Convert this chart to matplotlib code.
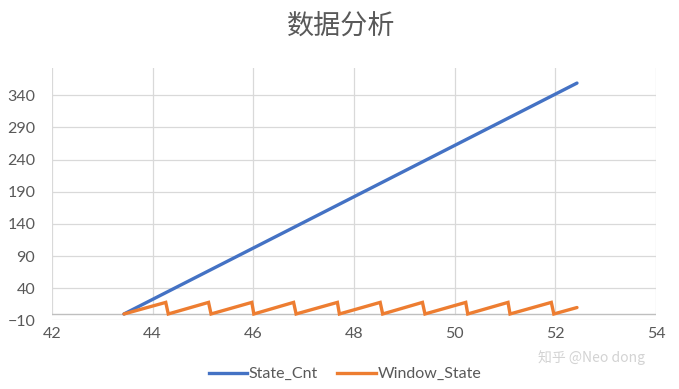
import numpy as np
import matplotlib.pyplot as plt
from matplotlib.lines import Line2D

plt.rcParams['font.family'] = ['Lato', 'Noto Sans CJK SC', 'DejaVu Sans']

# State_Cnt: straight count line
cnt_x = [43.43, 52.43]
cnt_y = [0, 359]

# Window_State: sawtooth
win_x = [43.43, 44.26, 44.31, 45.11, 45.16, 45.97, 46.01, 46.80, 46.85,
         47.67, 47.71, 48.52, 48.57, 49.36, 49.41, 50.22, 50.26, 51.06,
         51.10, 51.92, 51.97, 52.43]
win_y = [0, 18, 0, 18, 0, 18, 0, 18, 0,
         18, 0, 18, 0, 18, 0, 18, 0, 18,
         0, 18, 0, 10]

xticks = [42, 44, 46, 48, 50, 52, 54]
yticks = [-10, 40, 90, 140, 190, 240, 290, 340]

BLUE = '#4472C4'
ORANGE = '#ED7D31'
TXT = '#595959'

fig = plt.figure(figsize=(6.79, 3.89), dpi=100)
ax = fig.add_axes([52/679, 1-320.4/389, (656-52)/679, (320.4-68.3)/389])

ymin, ymax = -10, 382
ax.set_xlim(42, 54)
ax.set_ylim(ymin, ymax)

# gridlines like excel
for yt in yticks:
    ax.axhline(yt, color='#D9D9D9', lw=0.9, zorder=0)
for xt in xticks:
    ax.axvline(xt, ymin=(0-ymin)/(ymax-ymin), ymax=1, color='#D9D9D9', lw=0.9, zorder=0)
ax.axhline(0, color='#BFBFBF', lw=1.0, zorder=1)

ax.plot(cnt_x, cnt_y, color=BLUE, lw=2.4, solid_capstyle='round', zorder=3)
ax.plot(win_x, win_y, color=ORANGE, lw=2.4, solid_capstyle='round',
        solid_joinstyle='miter', zorder=3)

for s in ax.spines.values():
    s.set_visible(False)
ax.set_xticks(xticks)
ax.set_yticks(yticks)
ax.tick_params(axis='both', length=0, labelsize=11.5, labelcolor=TXT)
ax.tick_params(axis='y', pad=12)
ax.tick_params(axis='x', pad=5)

fig.text(0.503, 1-26/389, '数据分析', ha='center', va='center',
         fontsize=19.5, color=TXT, family=['Noto Sans CJK SC', 'DejaVu Sans'])

handles = [Line2D([0], [0], color=BLUE, lw=2.4),
           Line2D([0], [0], color=ORANGE, lw=2.4)]
fig.legend(handles, ['State_Cnt', 'Window_State'], loc='center',
           bbox_to_anchor=(345/679, 1-374/389), ncol=2, frameon=False,
           fontsize=11.5, labelcolor=TXT, handlelength=2.4,
           handletextpad=0.1, columnspacing=1.2)

# faint watermark
fig.text(538/679, 1-358/389, '知乎 @Neo dong', ha='left', va='center',
         fontsize=10, color='#C8C8C8', alpha=0.8,
         family=['Noto Sans CJK SC', 'DejaVu Sans'])

fig.savefig('out.png', dpi=100)
